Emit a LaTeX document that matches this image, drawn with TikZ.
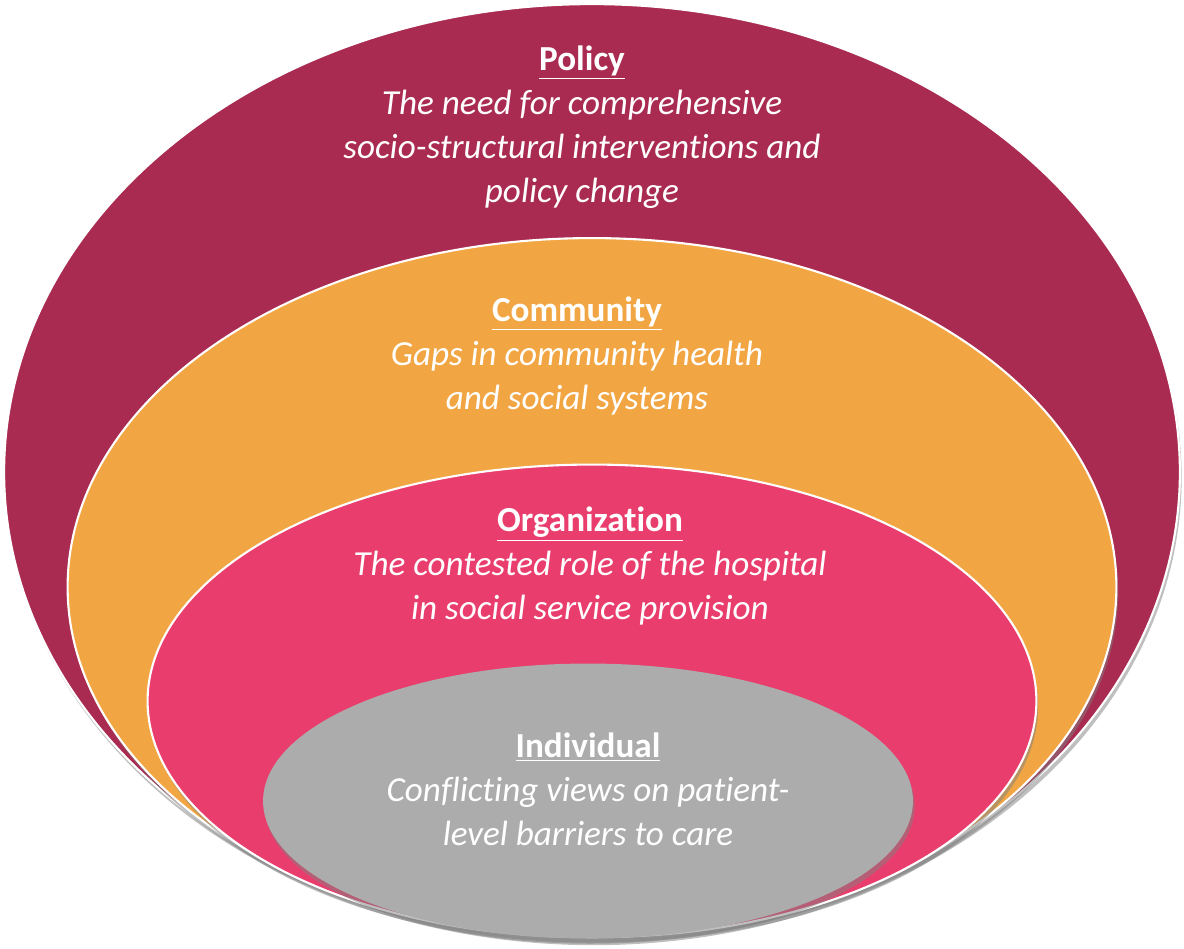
\documentclass[tikz,border=0pt]{standalone}
\usepackage{fontspec}
\setmainfont[Ligatures=NoCommon]{Carlito}
\usepackage{tikz}
\usetikzlibrary{shapes.geometric,shadows}
\definecolor{lpolicy}{HTML}{A92B51}
\definecolor{lcommunity}{HTML}{F2A643}
\definecolor{lorg}{HTML}{E93E6D}
\definecolor{lindiv}{HTML}{ACACAC}
\tikzset{
  level/.style={ellipse, draw=white, line width=1.2pt, inner sep=0pt,
                drop shadow={shadow xshift=1pt, shadow yshift=-3pt, opacity=0.5}},
  ltext/.style={align=center, text=white, font=\fontsize{20}{25}\selectfont},
}
\newcommand{\lhead}[1]{\textbf{\underline{#1}}}

\begin{document}
\begin{tikzpicture}[x=0.02cm, y=-0.02cm]
  \useasboundingbox (0,0) rectangle (1184,948);
  % rings, outermost first
  \node[level, fill=lpolicy, minimum width=23.52cm, minimum height=18.72cm] (policy) at (592,472) {};
  \node[level, fill=lcommunity, minimum width=20.98cm, minimum height=13.96cm] (community) at (592,587) {};
  \node[level, fill=lorg, minimum width=17.78cm, minimum height=9.46cm] (org) at (592,701) {};
  \node[level, draw=none, fill=lindiv, minimum width=13cm, minimum height=5.5cm] (indiv) at (588,801) {};
  % labels
  \node[ltext] (policytxt) at (582,127) {\lhead{Policy}\\\textit{The need for comprehensive}\\
     \textit{socio-structural interventions and}\\\textit{policy change}};
  \node[ltext] (communitytxt) at (577,356) {\lhead{Community}\\\textit{Gaps in community health}\\
     \textit{and social systems}};
  \node[ltext] (orgtxt) at (590,566) {\lhead{Organization}\\\textit{The contested role of the hospital}\\
     \textit{in social service provision}};
  \node[ltext] (indivtxt) at (588,789) {\lhead{Individual}\\\textit{Conflicting views on patient-}\\
     \textit{level barriers to care}};
\end{tikzpicture}
\end{document}
